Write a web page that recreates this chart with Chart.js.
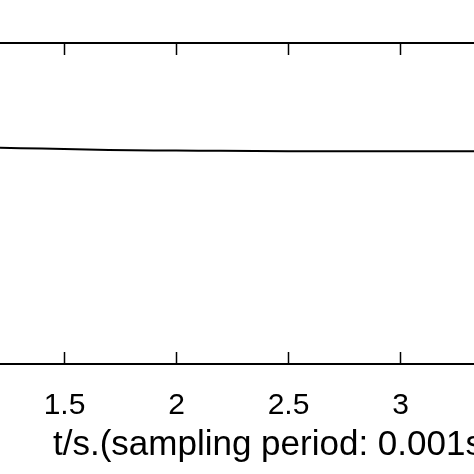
<!DOCTYPE html>
<html>
<head>
<meta charset="utf-8">
<script src="https://cdn.jsdelivr.net/npm/chart.js@4/dist/chart.umd.min.js"></script>
<style>
  html, body { margin: 0; padding: 0; background: #fff; }
  #wrap { width: 474px; height: 474px; }
</style>
</head>
<body>
<div id="wrap"><canvas id="c" width="474" height="474"></canvas></div>
<script>
const times = [1.214, 1.4, 1.6, 1.8, 2.0, 2.2, 2.5, 2.8, 3.1, 3.33];
const values = [0.674, 0.671, 0.668, 0.666, 0.665, 0.664, 0.663, 0.663, 0.663, 0.663];
const tickValues = [1.5, 2, 2.5, 3];
const tickLabels = ['1.5', '2', '2.5', '3'];
const xTitle = 't/s.(sampling period: 0.001s)';

const frame = {
    id: 'frame',
    afterDraw(chart) {
        const { ctx, chartArea: a, scales: { x } } = chart;
        ctx.save();
        ctx.strokeStyle = '#000';
        ctx.lineWidth = 2;
        ctx.beginPath();
        ctx.moveTo(a.left, a.top); ctx.lineTo(a.right, a.top);
        ctx.moveTo(a.left, a.bottom); ctx.lineTo(a.right, a.bottom);
        ctx.stroke();
        ctx.lineWidth = 1.5;
        ctx.fillStyle = '#000';
        ctx.font = '30px "Liberation Sans", Arial, sans-serif';
        ctx.textAlign = 'center';
        ctx.textBaseline = 'middle';
        tickValues.forEach((v, i) => {
            const px = Math.round(x.getPixelForValue(v)) + 0.5;
            ctx.beginPath();
            ctx.moveTo(px, a.top); ctx.lineTo(px, a.top + 12);
            ctx.moveTo(px, a.bottom); ctx.lineTo(px, a.bottom - 12);
            ctx.stroke();
            ctx.fillText(tickLabels[i], px, 406);
        });
        ctx.font = '35px "Liberation Sans", Arial, sans-serif';
        ctx.textAlign = 'left';
        ctx.fillText(xTitle, 53, 445);
        ctx.restore();
    }
};

new Chart(document.getElementById('c'), {
    type: 'line',
    data: {
        datasets: [{
            data: times.map((t, i) => ({ x: t, y: values[i] })),
            borderColor: '#000',
            borderWidth: 2,
            pointRadius: 0,
            tension: 0.3,
            fill: false
        }]
    },
    options: {
        responsive: false,
        animation: false,
        layout: { padding: { top: 43, bottom: 110, left: 0, right: 0 } },
        scales: {
            x: { type: 'linear', min: 1.214, max: 3.33, display: false },
            y: { min: 0, max: 1, display: false }
        },
        plugins: { legend: { display: false }, tooltip: { enabled: false } }
    },
    plugins: [frame]
});
</script>
</body>
</html>
